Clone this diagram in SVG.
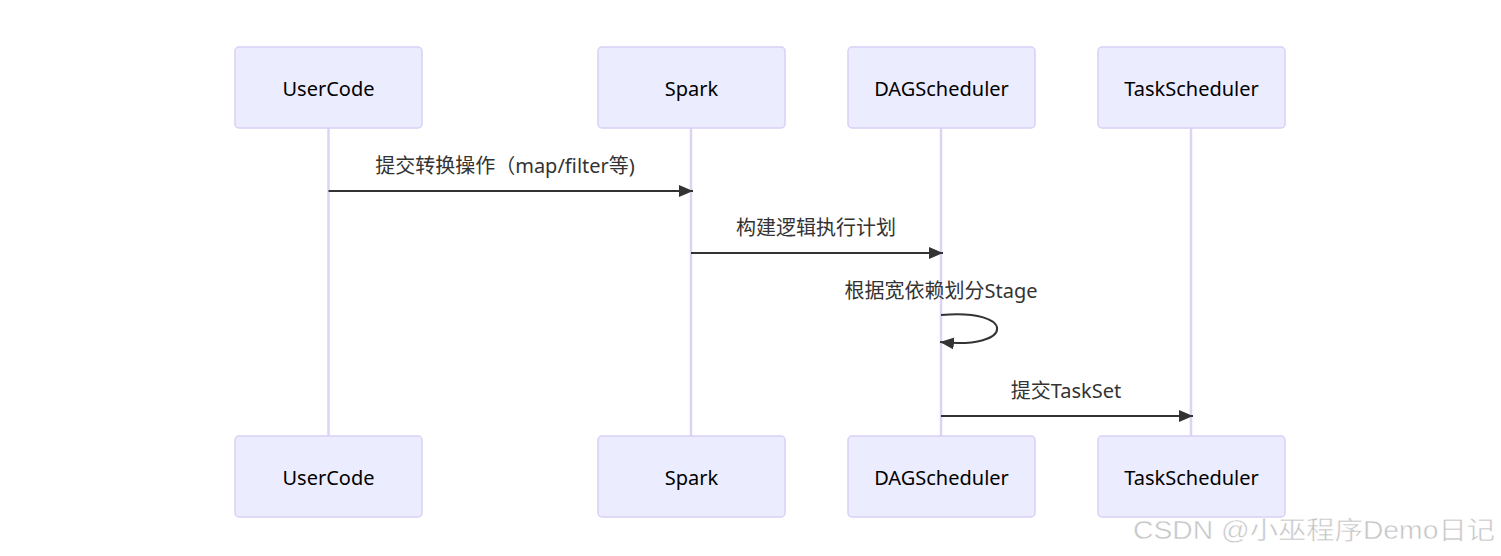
<svg xmlns="http://www.w3.org/2000/svg" width="1501" height="556" viewBox="0 0 1501 556">
<defs>
<style>
.actor rect{fill:#ececff;stroke:#d9d0f5;stroke-width:1.5}
.actor text{font-family:"Noto Sans","Noto Sans CJK SC",sans-serif;font-size:20px;fill:#000;text-anchor:middle;dominant-baseline:central}
.life{stroke:#ddd3f4;stroke-width:2.5}
.msg{stroke:#333;stroke-width:2;fill:none}
.lbl{font-family:"Noto Sans","Noto Sans CJK SC",sans-serif;font-size:20px;fill:#333;text-anchor:middle}
.wm{font-family:"Liberation Sans","Noto Sans CJK SC",sans-serif;font-size:25px;fill:#c4c4c4}
</style>
<marker id="arrow" markerWidth="14" markerHeight="12" refX="14" refY="6" orient="auto" markerUnits="userSpaceOnUse">
<path d="M0,0 L14,6 L0,12 Z" fill="#333"/>
</marker>
</defs>
<rect width="1501" height="556" fill="#fff"/>
<g id="lifelines">
<line class="life" x1="328.5" y1="128" x2="328.5" y2="436"/>
<line class="life" x1="691" y1="128" x2="691" y2="436"/>
<line class="life" x1="941" y1="128" x2="941" y2="436"/>
<line class="life" x1="1191" y1="128" x2="1191" y2="436"/>
</g>
<g id="actor-usercode-top" class="actor"><rect x="235" y="47" width="187" height="81" rx="4"/><text x="328.5" y="88">UserCode</text></g>
<g id="actor-spark-top" class="actor"><rect x="598" y="47" width="187" height="81" rx="4"/><text x="691.5" y="88">Spark</text></g>
<g id="actor-dag-top" class="actor"><rect x="848" y="47" width="187" height="81" rx="4"/><text x="941.5" y="88">DAGScheduler</text></g>
<g id="actor-task-top" class="actor"><rect x="1098" y="47" width="187" height="81" rx="4"/><text x="1191.5" y="88">TaskScheduler</text></g>
<g id="actor-usercode-bottom" class="actor"><rect x="235" y="436" width="187" height="81" rx="4"/><text x="328.5" y="477">UserCode</text></g>
<g id="actor-spark-bottom" class="actor"><rect x="598" y="436" width="187" height="81" rx="4"/><text x="691.5" y="477">Spark</text></g>
<g id="actor-dag-bottom" class="actor"><rect x="848" y="436" width="187" height="81" rx="4"/><text x="941.5" y="477">DAGScheduler</text></g>
<g id="actor-task-bottom" class="actor"><rect x="1098" y="436" width="187" height="81" rx="4"/><text x="1191.5" y="477">TaskScheduler</text></g>
<g id="connectors">
<line class="msg" x1="328.5" y1="191" x2="693" y2="191" marker-end="url(#arrow)"/>
<line class="msg" x1="691" y1="253" x2="943" y2="253" marker-end="url(#arrow)"/>
<path class="msg" d="M941,315 C1016,308 1016,350 940,342" marker-end="url(#arrow)"/>
<line class="msg" x1="941" y1="416" x2="1193" y2="416" marker-end="url(#arrow)"/>
<text class="lbl" x="505" y="173">提交转换操作（map/filter等)</text>
<text class="lbl" x="816" y="235">构建逻辑执行计划</text>
<text class="lbl" x="941" y="298">根据宽依赖划分Stage</text>
<text class="lbl" x="1066" y="398">提交TaskSet</text>
</g>
<text class="wm" x="1133" y="539" textLength="362" lengthAdjust="spacingAndGlyphs" stroke="#fff" stroke-width="0.5">CSDN @小巫程序Demo日记</text>
</svg>
